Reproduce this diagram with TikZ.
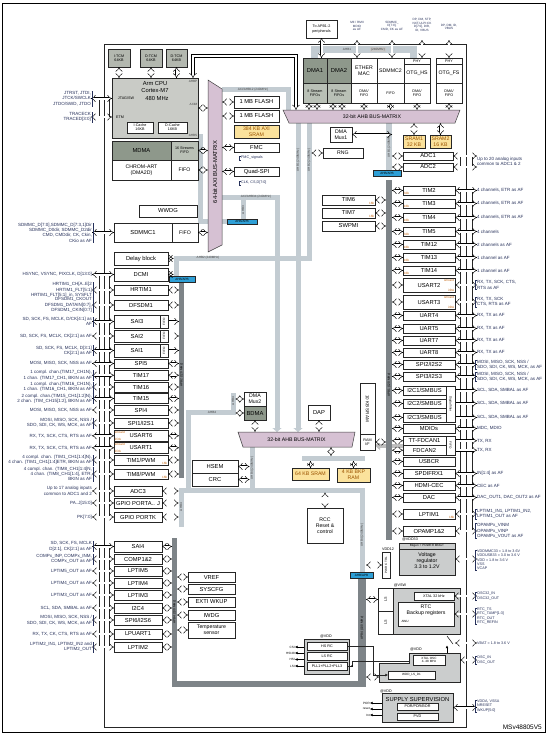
\documentclass[tikz,border=0pt]{standalone}
\usepackage{fontspec}
\setmainfont{Liberation Sans}
\usetikzlibrary{arrows.meta,calc}
\definecolor{busc}{HTML}{C3CCD2}
\definecolor{apbc}{HTML}{7E8488}
\definecolor{cpuc}{HTML}{C9CBC6}
\definecolor{tcmc}{HTML}{B3B8AF}
\definecolor{dmac}{HTML}{8E988B}
\definecolor{fifoc}{HTML}{B9C0B6}
\definecolor{mtxc}{HTML}{D6C1D3}
\definecolor{sramc}{HTML}{FBE29C}
\definecolor{domc}{HTML}{CBCDCD}
\definecolor{bluec}{HTML}{2E9FD6}
\definecolor{tagc}{HTML}{C4620A}
\definecolor{pinc}{HTML}{26305A}
\definecolor{sramt}{HTML}{9A5200}
\newcommand\fsA{\fontsize{5.8}{6.6}\selectfont}
\newcommand\fsM{\fontsize{5.2}{6}\selectfont}
\newcommand\fsB{\fontsize{4.5}{5.3}\selectfont}
\newcommand\fsC{\fontsize{3.7}{4.3}\selectfont}
\newcommand\fsD{\fontsize{3.1}{3.6}\selectfont}
\pgfdeclarelayer{base}
\pgfdeclarelayer{bg}
\pgfsetlayers{base,bg,main}
\newcommand\bx[7][]{\node[box,minimum width={(#5-#3)*1pt},minimum height={(#6-#4)*1pt},#1] (#2) at ({(#3+#5)/2},{(#4+#6)/2}) {#7};}
\newcommand\lrow[7]{\bx{#1}{114}{#2}{#4}{#3}{#5}\node[ll] (#1-pin) at (92,{(#2+#3)/2}) {#6};\draw[dbl] (#1.west) -- (#1.west -| #1-pin.east);\draw[dbl] (#1.east) -- (#1.east -| #7);}
\newcommand\rrow[6]{\bx{#1}{403}{#2}{#4}{#3}{#5}\node[rl] (#1-pin) at (477,{(#2+#3)/2}) {#6};\draw[dbl] (#1.east) -- (#1.east -| #1-pin.west);\draw[dbl] (#1.west) -- (#1.west -| apbone.east);}
\newcommand\rbr[1]{\draw[brk] ($(#1.north east)+(0.5,0)$) -- ($(#1.north east)+(1.6,0)$) -- ($(#1.south east)+(1.6,0)$) -- ($(#1.south east)+(0.5,0)$);}
\newcommand\lbr[1]{\draw[brk] ($(#1.north west)+(-0.5,0)$) -- ($(#1.north west)+(-1.6,0)$) -- ($(#1.south west)+(-1.6,0)$) -- ($(#1.south west)+(-0.5,0)$);}
\begin{document}
\begin{tikzpicture}[x=1pt,y=-1pt,
 box/.style={draw=black!85, line width=0.55pt, fill=white, inner sep=0pt, outer sep=0pt, align=center, font=\fsA},
 dbl/.style={double, double distance=2pt, line width=0.45pt, {Implies}-{Implies}},
 band/.style={line width=5pt, draw=busc},
 blab/.style={font=\fsD, text=black!75, inner sep=0pt},
 apb/.style={fill=apbc, draw=none},
 bridge/.style={fill=bluec, font=\fsD, line width=0.4pt},
 mtx/.style={fill=mtxc, draw=black!75, line width=0.5pt},
 ll/.style={anchor=east, font=\fsB, align=right, inner sep=0pt, text=pinc},
 rl/.style={anchor=west, font=\fsB, align=left, inner sep=0pt, text=pinc},
 tag/.style={font=\fsD, text=tagc, inner sep=0.6pt},
 brk/.style={line width=0.35pt, draw=pinc},
 rail/.style={line width=0.45pt, draw=black!85},
 tl/.style={font=\fsD, align=center, text=pinc, inner sep=0pt},
 sm/.style={font=\fsC, inner sep=0pt},
 wire/.style={line width=0.45pt, draw=black!85},
 pip/.style={double, double distance=2.2pt, line width=0.45pt, {Implies}-{Implies}},
 tip/.style={-{Latex[length=2.6pt,width=2.8pt]}, line width=0.45pt}
]
\useasboundingbox (0,0) rectangle (548,736);
\begin{pgfonlayer}{base}
\fill[white] (0,0) rectangle (548,736);
\end{pgfonlayer}
\draw[line width=0.7pt] (2,3) rectangle (545,732);
\draw[line width=0.8pt, black!85] (104,44) rectangle (466,727);

% ---------------- buses (background) ----------------
\begin{pgfonlayer}{bg}
\draw[band] (222,89.5) -- (288,89.5) -- (288,111);
\draw[band, line width=7pt] (314,58) -- (314,49.5) -- (413,49.5) -- (413,58);
\draw[band, line width=6pt] (389,123) -- (389,171);
\draw[band, -{Triangle[width=9pt,length=4pt]}] (298,123) -- (298,432);
\draw[band] (309,123) -- (309,258) -- (176,258) -- (176,277);
\draw[band, -{Triangle[width=9pt,length=4pt]}] (222,197) -- (277,197) -- (277,432);
\draw[band] (243,197) -- (243,220);
\draw[band] (228,221.5) -- (200.5,221.5) -- (200.5,134);
\draw[band] (200.5,211) -- (197,211);
\draw[band] (233,393) -- (233,412) -- (188,412) -- (188,488);
\draw[band] (252,447) -- (252,490) -- (362,490) -- (362,573);
\draw[band] (252,490) -- (181,490) -- (181,527);
\draw[band] (302,458.5) -- (365,458.5);
\foreach \a/\b in {98.5/117, 274.5/517, 546.5/647}
  {\draw[rail] (99,\a) -- (99,\b); \draw[rail] (109,\a) -- (109,\b);}
\foreach \a/\b in {156/167, 190.5/531}
  {\draw[rail] (460,\a) -- (460,\b); \draw[rail] (472,\a) -- (472,\b);}
\end{pgfonlayer}
\node[blab] (lAXI12) at (253,89.5) {AXI/AHB12 (240MHz)};
\node[blab] (lAHB1t) at (347,49.5) {AHB1};
\node[blab, fill=black!22, inner sep=0.8pt] (lAHB1f) at (378,49.5) {(240MHz)};
\node[blab, rotate=90] (lAHB1r) at (389,146) {AHB1 (240MHz)};
\node[blab, rotate=90] (lAHB1m) at (298,160) {AHB1 (240MHz)};
\node[blab, rotate=90] (lAHB2v) at (309,160) {AHB2 (240MHz)};
\node[blab] (lAHB2h) at (208,258) {AHB2 (240MHz)};
\node[blab] (lAXI34) at (256,197) {AXI/AHB34 (240MHz)};
\node[blab, rotate=90] (lAHB3) at (243,210) {AHB3};
\node[blab, rotate=90] (lAHB4a) at (233,401) {AHB4};
\node[blab] (lAHB4b) at (212,412) {AHB4};
\node[blab, rotate=90] (lAHB4c) at (252,468) {AHB4 (240MHz)};
\node[blab, rotate=90] (lAHB4d) at (362,535) {AHB4 (240MHz)};
\node[blab, rotate=90] (lAHB4e) at (181,507) {AHB4};

% APB bars
\bx[apb]{apbone}{386}{180}{392}{540}{}
\bx[apb]{apbtwo}{179}{283}{184}{478}{}
\bx[apb]{apbfour}{172}{538}{177}{687}{}
\bx[apb]{apbfourh}{172}{681}{366}{687}{}
\bx[apb]{apbfourr}{358}{578}{366}{687}{}
\node[blab, rotate=90, text=black] (lAPB1) at (389,385) {APB1 (120 MHz)};
\node[blab, rotate=90, text=black] (lAPB2) at (181.5,375) {APB2 (120 MHz)};
\node[blab, rotate=90, text=black] (lAPB4a) at (174.5,612) {APB4 (100 MHz)};
\node[blab, rotate=90, text=black] (lAPB4b) at (362,628) {APB4 (100 MHz)};
\bx[bridge]{brone}{373}{170}{401}{176}{AHB/APB}
\bx[bridge]{brtwo}{169}{276}{195}{282}{AHB/APB}
\bx[bridge]{brthree}{227}{219}{257}{224}{AHB/APB}
\bx[bridge]{brfour}{350}{572}{373}{578}{AHB/APB}
\coordinate (xAHBtwo) at (173.5,0);
\coordinate (xAHBfour) at (178.7,0);
\coordinate (xAHBone) at (392,0);
\coordinate (xAHBfourv) at (249.5,0);
\coordinate (xAHBfourd) at (235.5,0);
\coordinate (xAHBtwor) at (311.5,0);
\coordinate (ytop) at (0,40);

% ---------------- bus matrices ----------------
\filldraw[mtx] (208,80) -- (222,89) -- (222,245) -- (208,252) -- cycle;
\node[font=\fsA, rotate=90] (axit) at (215,172) {64-bit AXI BUS-MATRIX};
\node[inner sep=0pt, minimum width=14pt, minimum height=172pt] (axim) at (215,166) {};
\filldraw[mtx] (283,110) -- (460,110) -- (455,123) -- (289,123) -- cycle;
\node[font=\fsM] (dtwot) at (372,116.5) {32-bit AHB BUS-MATRIX};
\node[inner sep=0pt, minimum width=177pt, minimum height=13pt] (dtwom) at (371.5,116.5) {};
\filldraw[mtx] (238,432) -- (355,432) -- (352,447) -- (243,447) -- cycle;
\node[font=\fsM] (dthreet) at (296.5,439.5) {32-bit AHB BUS-MATRIX};
\node[inner sep=0pt, minimum width=117pt, minimum height=15pt] (dthreem) at (296.5,439.5) {};

% ---------------- CPU cluster ----------------
\bx[fill=tcmc, font=\fsC]{itcm}{108}{49}{130}{67}{I-TCM\\64KB}
\bx[fill=tcmc, font=\fsC]{dtcma}{140}{49}{162}{67}{D-TCM\\64KB}
\bx[fill=tcmc, font=\fsC]{dtcmb}{166}{49}{187}{67}{D-TCM\\64KB}
\bx[fill=cpuc]{cpu}{112}{78}{198}{138}{}
\foreach \n in {itcm,dtcma,dtcmb} \draw[dbl] (\n.south) -- (\n.south |- cpu.north);
\node[font=\fsA] (cpuA) at (155,84) {Arm CPU};
\node[font=\fsA] (cpuB) at (155,91) {Cortex-M7};
\node[font=\fsA] (cpuC) at (157,98.5) {480 MHz};
\node[sm] (cpuJ) at (126,98.5) {JTAG/SW};
\node[sm] (cpuE) at (120,117) {ETM};
\node[blab, anchor=east] (cpuP) at (197.5,81) {AHBP};
\node[blab, anchor=east] (cpuX) at (197.5,104) {AXIM};
\node[blab, anchor=east] (cpuS) at (197.5,135) {AHBS};
\bx[font=\fsC]{icache}{127}{122}{153}{133}{I-Cache\\16KB}
\bx[font=\fsC]{dcache}{158}{122}{187}{133}{D-Cache\\16KB}
\bx[fill=dmac]{mdma}{112}{141}{171}{160}{MDMA}
\bx[fill=fifoc, font=\fsC]{mfifo}{171}{141}{198}{160}{16 Streams\\FIFO}
\bx[font=\fsM]{chrom}{112}{160}{171}{180}{CHROM-ART\\(DMA2D)}
\bx[font=\fsM]{cfifo}{171}{160}{198}{180}{FIFO}
\node[ll] (jtagpin) at (91,98.5) {JTRST, JTDI,\\JTCK/SWCLK\\JTDO/SWD, JTDO};
\node[ll] (tracepin) at (91,117) {TRACECK\\TRACED[3:0]};
\draw[dbl] (jtagpin.east) -- (jtagpin.east -| cpu.west);
\draw[dbl] (tracepin.east) -- (tracepin.east -| cpu.west);
\draw[dbl] (cpu.east) -- (cpu.east -| axim.west);
\draw[dbl] (mfifo.east) -- (mfifo.east -| axim.west);
\draw[dbl] (cfifo.east) -- (cfifo.east -| axim.west);
\coordinate (ahbpA) at (193,56);
\coordinate (ahbpB) at (296,56);
\draw[pip] (cpu.north -| ahbpA) -- (ahbpA) -- (ahbpB) -- (ahbpB |- dtwom.north);

% ---------------- AXI side ----------------
\bx{flashone}{234}{96}{279}{108}{1 MB FLASH}
\bx{flashtwo}{234}{110}{279}{122}{1 MB FLASH}
\bx[fill=sramc, text=sramt, font=\fsM]{axisram}{234}{125}{279}{138}{384 KB AXI\\SRAM}
\bx{fmc}{234}{143}{279}{152}{FMC}
\bx{qspi}{234}{167}{279}{176}{Quad-SPI}
\foreach \n in {flashone,flashtwo,fmc,qspi} \draw[dbl] (\n.west -| axim.east) -- (\n.west);
\node[sm, anchor=west, text=pinc] (fmcsig) at (241,158) {FMC\_signals};
\node[sm, anchor=west, text=pinc] (qspisig) at (241,183) {CLK, CS,D[7:0]};
\lbr{fmcsig}
\lbr{qspisig}

\bx{wwdg}{139}{205}{197}{217}{WWDG}
\bx{sdone}{114}{223}{172}{242}{SDMMC1}
\bx[font=\fsM]{sdonef}{172}{223}{198}{242}{FIFO}
\node[ll] (sdonepin) at (92,232.5) {SDMMC\_D[7:0],SDMMC\_D[7:3,1]Dir\\SDMMC\_D0dir, SDMMC\_D2dir\\CMD, CMDdir, CK, Ckin,\\CKio as AF};
\draw[dbl] (sdone.west) -- (sdone.west -| sdonepin.east);
\draw[dbl] (sdonef.east) -- (sdonef.east -| axim.west);

% ---------------- D2 top ----------------
\bx[font=\fsC]{toapb}{306}{20}{337}{38}{To APB1-2\\peripherals}
\node[tl] (miipin) at (357,26) {MII / RMII\\MDIO\\as AF};
\node[tl] (sdpin) at (392,26) {SDMMC\_\\D[7:0],\\CMD, CK as AF};
\node[tl] (ulpipin) at (422,25) {DP, DM, STP,\\NXT,ULPI:CK\\D[7:0], DIR,\\ID, VBUS};
\node[tl] (dppin) at (449,27) {DP, DM, ID,\\VBUS};
\bx[fill=dmac]{dmaone}{303}{58}{327}{83}{DMA1}
\bx[fill=fifoc, font=\fsC]{dmaonef}{303}{83}{327}{103}{8 Stream\\FIFOs}
\bx[fill=dmac]{dmatwo}{327}{58}{351}{83}{DMA2}
\bx[fill=fifoc, font=\fsC]{dmatwof}{327}{83}{351}{103}{8 Stream\\FIFOs}
\bx[font=\fsM]{ether}{351}{58}{377}{83}{ETHER\\MAC}
\bx[font=\fsC]{etherf}{351}{83}{377}{103}{DMA/\\FIFO}
\bx[font=\fsM]{sdtwo}{377}{58}{404}{83}{SDMMC2}
\bx[font=\fsC]{sdtwof}{377}{83}{404}{103}{FIFO}
\bx[font=\fsC]{phyhs}{404}{58}{430}{64}{PHY}
\bx[font=\fsM]{otghs}{404}{64}{430}{83}{OTG\_HS}
\bx[font=\fsC]{otghsf}{404}{83}{430}{103}{DMA/\\FIFO}
\bx[font=\fsC]{phyfs}{436}{58}{462}{64}{PHY}
\bx[font=\fsM]{otgfs}{436}{64}{462}{83}{OTG\_FS}
\bx[font=\fsC]{otgfsf}{436}{83}{462}{103}{DMA/\\FIFO}
\draw[dbl] (toapb.south) -- (toapb.south |- dmaone.north);
\draw[dbl] (miipin.south |- ytop) -- (miipin.south |- ether.north);
\draw[dbl] (sdpin.south |- ytop) -- (sdpin.south |- sdtwo.north);
\draw[dbl] (ulpipin.south |- ytop) -- (ulpipin.south |- phyhs.north);
\draw[dbl] (dppin.south |- ytop) -- (dppin.south |- phyfs.north);
\foreach \n/\o in {dmaonef/-6,dmaonef/2,dmatwof/-6,dmatwof/3,etherf/0,sdtwof/0,otghsf/0,otgfsf/0}
  \draw[dbl] ($(\n.south)+(\o,0)$) -- ($(\n.south |- dtwom.north)+(\o,0)$);
\bx[fill=sramc, text=sramt, font=\fsM]{sramone}{403}{135}{425}{148}{SRAM1\\32 KB}
\bx[fill=sramc, text=sramt, font=\fsM]{sramtwo}{430}{135}{451}{148}{SRAM2\\16 KB}
\foreach \n in {sramone,sramtwo} \draw[dbl] (\n.north |- dtwom.south) -- (\n.north);
\bx[font=\fsM]{dmamux}{330}{127}{352}{142}{DMA\\Mux1}
\bx[font=\fsM]{rng}{323}{148}{363}{158}{RNG}
\draw[dbl] (dmamux.east) -- (dmamux.east -| xAHBone);
\draw[dbl] (rng.west) -- (rng.west -| xAHBtwor);
\bx{adcone}{403}{152}{453}{160}{ADC1}
\bx{adctwo}{403}{163}{453}{171}{ADC2}
\node[rl] (adcpin) at (477,161.5) {Up to 20 analog inputs\\common to ADC1 \& 2};
\foreach \n in {adcone,adctwo} {\draw[dbl] (\n.west) -- (\n.west -| xAHBone); \draw[dbl] (\n.east) -- (\n.east -| adcpin.west);}

\bx{timsix}{322}{195}{375}{205}{TIM6}
\bx{timseven}{322}{208}{375}{218}{TIM7}
\bx{swpmi}{322}{221}{375}{231}{SWPMI}
\foreach \n in {timsix,timseven,swpmi} \draw[dbl] (\n.east) -- (\n.east -| apbone.west);

% ---------------- right column ----------------
\rrow{tim2}{186}{195}{455}{TIM2}{4 channels, ETR as AF}
\rrow{tim3}{199}{208}{455}{TIM3}{4 channels, ETR as AF}
\rrow{tim4}{213}{222}{455}{TIM4}{4 channels, ETR as AF}
\rrow{tim5}{227}{236}{455}{TIM5}{4 channels}
\rrow{timtwelve}{240}{249}{455}{TIM12}{2 channels as AF}
\rrow{timthirteen}{253}{262}{455}{TIM13}{1 channel as AF}
\rrow{timfourteen}{266}{275}{455}{TIM14}{1 channel as AF}
\rrow{usarttwo}{278}{292}{455}{USART2}{RX, TX, SCK, CTS,\\RTS as AF}
\rrow{usartthree}{295}{309}{455}{USART3}{RX, TX, SCK\\CTS, RTS as AF}
\rrow{uartfour}{311}{320}{455}{UART4}{RX, TX as AF}
\rrow{uartfive}{324}{333}{455}{UART5}{RX, TX as AF}
\rrow{uartseven}{336}{345}{455}{UART7}{RX, TX as AF}
\rrow{uarteight}{348}{357}{455}{UART8}{RX, TX as AF}
\rrow{spitwo}{360}{369}{455}{SPI2/I2S2}{MOSI, MISO, SCK, NSS /\\SDO, SDI, CK, WS, MCK, as AF}
\rrow{spithree}{372}{381}{455}{SPI3/I2S3}{MOSI, MISO, SCK, NSS /\\SDO, SDI, CK, WS, MCK, as AF}
\rrow{ictwoone}{386}{395}{446}{I2C1/SMBUS}{SCL, SDA, SMBAL as AF}
\rrow{ictwotwo}{399}{408}{446}{I2C2/SMBUS}{SCL, SDA, SMBAL as AF}
\rrow{ictwothree}{413}{422}{446}{I2C3/SMBUS}{SCL, SDA, SMBAL as AF}
\rrow{mdios}{424}{433}{455}{MDIOs}{MDC, MDIO}
\rrow{fdcanone}{436}{445.5}{446}{TT-FDCAN1}{TX, RX}
\rrow{fdcantwo}{445.5}{455}{446}{FDCAN2}{TX, RX}
\bx{usbcr}{403}{457}{455}{466}{USBCR}
\draw[dbl] (usbcr.west) -- (usbcr.west -| apbone.east);
\rrow{spdif}{469}{478}{455}{SPDIFRX1}{IN[1:4] as AF}
\rrow{hdmi}{481}{490}{455}{HDMI-CEC}{CEC as AF}
\rrow{dac}{493}{502}{455}{DAC}{DAC\_OUT1, DAC\_OUT2 as AF}
\rrow{lptimone}{509}{519}{455}{LPTIM1}{LPTIM1\_IN1, LPTIM1\_IN2,\\LPTIM1\_OUT as AF}
\rrow{opamp}{526}{536}{455}{OPAMP1\&2}{OPAMPx\_VINM\\OPAMPx\_VINP\\OPAMPx\_VOUT as AF}
\bx[font=\fsD]{dfilt}{446}{386}{455}{422}{\rotatebox{-90}{Digital filter}}
\bx[font=\fsD]{canfifo}{446}{436}{455}{455}{\rotatebox{-90}{FIFO}}
\foreach \n in {usarttwo-pin,usartthree-pin,spitwo-pin,spithree-pin,lptimone-pin,opamp-pin} \lbr{\n};

% ---------------- left column ----------------
\bx{delay}{114}{252}{168}{265}{Delay block}
\draw[dbl] (delay.east) -- (delay.east -| xAHBtwo);
\lrow{dcmi}{268}{281}{168}{DCMI}{HSYNC, VSYNC, PIXCLK, D[13:0]}{xAHBtwo}
\lrow{hrtim}{285}{295}{168}{HRTIM1}{HRTIM1\_CH[A..E]2\\HRTIM1\_FLT[5:1]\\HRTIM1\_FLT[5:1]\_in, SYSFLT}{apbtwo.west}
\lrow{dfsdm}{300}{310}{168}{DFSDM1}{DFSDM1\_CKOUT\\DFSDM1\_DATAIN[0:7],\\DFSDM1\_CKIN[0:7]}{apbtwo.west}
\lrow{saithree}{315}{328}{160}{SAI3}{SD, SCK, FS, MCLK, D/CK[4:1] as\\AF}{apbtwo.west}
\lrow{saitwo}{330}{342}{160}{SAI2}{SD, SCK, FS, MCLK, CK[2:1] as AF}{apbtwo.west}
\lrow{saione}{344}{357}{160}{SAI1}{SD, SCK, FS, MCLK, D[3:1]\\CK[2:1] as AF}{apbtwo.west}
\lrow{spifive}{359}{368}{168}{SPI5}{MOSI, MISO, SCK, NSS as AF}{apbtwo.west}
\lrow{timseventeen}{370}{380.5}{168}{TIM17}{1 compl. chan.(TIM17\_CH1N),\\1 chan. (TIM17\_CH1, BKIN as AF}{apbtwo.west}
\lrow{timsixteen}{382}{392}{168}{TIM16}{1 compl. chan.(TIM16\_CH1N),\\1 chan. (TIM16\_CH1, BKIN as AF}{apbtwo.west}
\lrow{timfifteen}{393.5}{403.5}{168}{TIM15}{2 compl. chan.(TIM15\_CH1[1:2]N),\\2 chan. (TIM\_CH15[1:2], BKIN as AF}{apbtwo.west}
\lrow{spifour}{405}{415}{168}{SPI4}{MOSI, MISO, SCK, NSS as AF}{apbtwo.west}
\lrow{spione}{418}{428}{168}{SPI1/I2S1}{MOSI, MISO, SCK, NSS /\\SDO, SDI, CK, WS, MCK, as AF}{apbtwo.west}
\lrow{usartsix}{430}{441.5}{168}{USART6}{RX, TX, SCK, CTS, RTS as AF}{apbtwo.west}
\lrow{usartone}{442.5}{453}{168}{USART1}{RX, TX, SCK, CTS, RTS as AF}{apbtwo.west}
\lrow{timone}{455}{465}{168}{TIM1/PWM}{4 compl. chan. (TIM1\_CH1[1:4]N),\\4 chan. (TIM1\_CH1[1:4]ETR, BKIN as AF}{apbtwo.west}
\lrow{timeight}{469}{479}{168}{TIM8/PWM}{4 compl. chan. (TIM8\_CH1[1:4]N,\\4 chan. (TIM8\_CH1[1:4], ETR,\\BKIN as AF}{apbtwo.west}
\lrow{adcthree}{486}{496}{162}{ADC3}{Up to 17 analog inputs\\common to ADC1 and 2}{xAHBfour}
\lrow{gpioa}{498}{508}{162}{GPIO PORTA.. J}{PA..J[15:0]}{xAHBfour}
\lrow{gpiok}{512}{522}{162}{GPIO PORTK}{PK[7:0]}{xAHBfour}
\lrow{saifour}{541}{552}{162}{SAI4}{SD, SCK, FS, MCLK\\D[2:1], CK[2:1] as AF}{apbfour.west}
\lrow{comp}{554}{564}{162}{COMP1\&2}{COMPx\_INP, COMPx\_INM,\\COMPx\_OUT as AF}{apbfour.west}
\lrow{lptimfive}{566}{576}{162}{LPTIM5}{LPTIM5\_OUT as AF}{apbfour.west}
\lrow{lptimfour}{578}{588}{162}{LPTIM4}{LPTIM4\_OUT as AF}{apbfour.west}
\lrow{lptimthree}{590}{600}{162}{LPTIM3}{LPTIM3\_OUT as AF}{apbfour.west}
\lrow{ictwofour}{603}{613}{162}{I2C4}{SCL, SDA, SMBAL as AF}{apbfour.west}
\lrow{spisix}{615}{625}{162}{SPI6/I2S6}{MOSI, MISO, SCK, NSS /\\SDO, SDI, CK, WS, MCK, as AF}{apbfour.west}
\lrow{lpuart}{629}{639}{162}{LPUART1}{RX, TX, CK, CTS, RTS as AF}{apbfour.west}
\lrow{lptimtwo}{642}{652}{162}{LPTIM2}{LPTIM2\_IN1, LPTIM2\_IN2 and\\LPTIM2\_OUT}{apbfour.west}
\bx[font=\fsD]{saithreef}{160}{315}{168}{328}{\rotatebox{90}{FIFO}}
\bx[font=\fsD]{saitwof}{160}{330}{168}{342}{\rotatebox{90}{FIFO}}
\bx[font=\fsD]{saionef}{160}{344}{168}{357}{\rotatebox{90}{FIFO}}
\foreach \n in {jtagpin,tracepin,sdonepin,hrtim-pin,dfsdm-pin,saithree-pin,saione-pin,timseventeen-pin,timsixteen-pin,timfifteen-pin,spione-pin,timone-pin,timeight-pin,saifour-pin,comp-pin,spisix-pin,lptimtwo-pin} \rbr{\n};

% tags
\foreach \n/\t in {tim2/32b,tim3/16b,tim4/16b,tim5/32b,timtwelve/16b,timthirteen/16b,timfourteen/16b}
  \node[tag, anchor=south west] (\n-t) at (\n.south west) {\t};
\foreach \n in {usarttwo,usartthree} {\node[tag,anchor=north east] (\n-s) at (\n.north east) {smcard}; \node[tag,anchor=south east] (\n-i) at (\n.south east) {irDA};}
\foreach \n in {usartsix,usartone} {\node[tag,anchor=north west] (\n-s) at (\n.north west) {smcard}; \node[tag,anchor=south west] (\n-i) at (\n.south west) {irDA};}
\foreach \n in {lptimone,timone,timeight,timsix,timseven} \node[tag,anchor=south east] (\n-t) at (\n.south east) {16b};

% ---------------- D3 ----------------
\bx[font=\fsM]{dmamuxtwo}{244}{392}{266}{406}{DMA\\Mux2}
\bx[fill=dmac]{bdma}{244}{406}{266}{420}{BDMA}
\bx{dap}{308}{405}{330}{420}{DAP}
\draw[dbl] (dmamuxtwo.west) -- (dmamuxtwo.west -| xAHBfourd);
\draw[dbl] (bdma.west) -- (bdma.west -| xAHBfourd);
\draw[dbl] (bdma.south) -- (bdma.south |- dthreem.north);
\draw[dbl] (dap.south) -- (dap.south |- dthreem.north);
\coordinate (sbust) at (0,456);
\coordinate (sbusb) at (0,461);
\draw[dbl] ($(dthreem.south)+(34.5,0)$) -- ($(dthreem.south |- sbust)+(34.5,0)$);
\bx[fill=sramc, text=sramt, font=\fsM]{sramd}{292}{468}{329}{480}{64 KB SRAM}
\bx[fill=sramc, text=sramt, font=\fsM]{bkpram}{337}{468}{370}{482}{4 KB BKP\\RAM}
\draw[dbl] (sramd.north |- sbusb) -- (sramd.north);
\draw[dbl] (bkpram.north |- sbusb) -- (bkpram.north);
\bx[font=\fsB]{tensram}{360}{383}{375}{434}{\rotatebox{-90}{10 KB SRAM}}
\bx[font=\fsC]{ramif}{360}{434}{375}{450}{RAM\\I/F}
\draw[dbl] (ramif.east) -- (ramif.east -| apbone.west);
\begin{pgfonlayer}{bg}
\draw[line width=4pt, draw=black!25, -{Triangle[width=9pt,length=5pt]}] (fdcantwo.north west) -- (fdcantwo.north west -| ramif.east);
\end{pgfonlayer}
\bx{hsem}{192}{460}{238}{473}{HSEM}
\bx{crc}{192}{473}{238}{486}{CRC}
\draw[dbl] (hsem.east) -- (hsem.east -| xAHBfourv);
\draw[dbl] (crc.east) -- (crc.east -| xAHBfourv);
\coordinate (ahbfourh) at (0,492.5);
\bx[font=\fsM]{rcc}{307}{508}{343}{543}{RCC\\Reset \&\\control}
\draw[dbl] (rcc.north |- ahbfourh) -- (rcc.north);

\bx{vref}{188}{572}{235}{582}{VREF}
\bx{syscfg}{188}{584}{235}{594}{SYSCFG}
\bx{exti}{188}{597}{235}{607}{EXTI WKUP}
\bx{iwdg}{188}{610}{235}{620}{IWDG}
\bx[font=\fsM]{temp}{188}{622}{235}{638}{Temperature\\sensor}
\foreach \n in {vref,syscfg,exti,iwdg,temp} \draw[dbl] (\n.west) -- (\n.west -| apbfour.east);

% clocks
\node[sm] (vddhsi) at (326,636) {@VDD};
\bx[fill=domc]{hsigrp}{304}{639}{349}{674}{}
\bx[font=\fsC]{hsirc}{307}{642}{347}{650}{HS RC}
\bx[font=\fsC]{lsirc}{307}{652}{347}{660}{LS RC}
\bx[font=\fsC]{pll}{307}{662}{347}{670}{PLL1+PLL2+PLL3}
\foreach \n/\t/\y in {csi/CSI/647,hsife/HSI48/653,hsi/HSI/659.5,lsi/LSI/666}
  {\node[font=\fsD, anchor=east, inner sep=0pt] (\n) at (295,\y) {\t}; \draw[tip] (hsigrp.west |- \n) -- (\n.east);}

% ---------------- power ----------------
\node[sm] (vddthree) at (410,539.5) {@VDD33};
\node[sm] (vddtwelve) at (388,549) {VDD12};
\bx[fill=domc, font=\fsM]{reg}{399}{543}{455}{575}{\\[1pt]Voltage\\regulator\\3.3 to 1.2V}
\bx[fill=domc, font=\fsD]{bkgen}{399}{543}{455}{549}{Bkgen + POWER MNGT}
\bx[font=\fsD]{pwrctrl}{382}{552}{390}{578}{\rotatebox{90}{PWR CTRL}}
\draw[dbl] (pwrctrl.west) -- (pwrctrl.west -| apbfourr.east);
\node[rl, font=\fsC] (regpin) at (477,560) {VDDMMC33 = 1.8 to 3.6V\\VDDUSB33 = 3.0 to 3.6 V\\VDD = 1.8 to 3.6 V\\VSS\\VCAP};
\draw[dbl] (reg.east) -- (reg.east -| regpin.west);

\node[sm] (vsw) at (400,585) {@VSW};
\bx[fill=domc]{bkp}{378}{588}{460}{634}{}
\bx[font=\fsC]{lsa}{378}{588}{393}{611}{\rotatebox{90}{LS}}
\bx[font=\fsC]{lsb}{378}{611}{393}{634}{\rotatebox{90}{LS}}
\bx[font=\fsC]{xtal}{414}{592}{454}{600}{XTAL 32 kHz}
\bx[font=\fsM]{rtc}{398}{602}{454}{626}{RTC\\Backup registers\\[2pt]}
\node[font=\fsD, anchor=south west] (awu) at (rtc.south west) {AWU};
\draw[dbl] (lsa.west) -- (lsa.west -| apbfourr.east);
\node[rl, font=\fsC] (oscpin) at (477,596) {OSC32\_IN\\OSC32\_OUT};
\node[rl, font=\fsC] (rtcpin) at (477,616) {RTC\_TS\\RTC\_TAMP[1:3]\\RTC\_OUT\\RTC\_REFIN};
\draw[dbl] (xtal.east) -- (xtal.east -| oscpin.west);
\draw[dbl] (rtc.east) -- (rtc.east -| rtcpin.west);
\coordinate (vbatc) at (455,643);
\node[rl, font=\fsC] (vbatpin) at (477,643) {VBAT = 1.8 to 3.6 V};
\draw[dbl] (vbatc) -- (vbatpin.west);
\draw[line width=0.5pt] (447,636) -- (453,644);

\node[sm] (vddb) at (416,649) {@VDD};
\filldraw[fill=domc, draw=black!85, line width=0.55pt] (409,653) -- (460,653) -- (460,682) -- (379,682) -- (379,663) -- (409,663) -- cycle;
\bx[font=\fsD]{xtalosc}{413}{655}{445}{665}{XTAL OSC\\4- 48 MHz}
\bx[font=\fsD]{wdd}{388}{671}{435}{679}{WDD\_LS\_D1}
\coordinate (vddr) at (460,660);
\coordinate (vddl) at (379,677);
\coordinate (vddn) at (409,661);
\coordinate (clkx) at (373,0);
\coordinate (pllx) at (352,0);
\draw[tip] (447,653) -- (447,645.5);
\node[rl, font=\fsC] (osc2pin) at (477,660) {OSC\_IN\\OSC\_OUT};
\draw[dbl] (vddr) -- (vddr -| osc2pin.west);
\draw[dbl] (vddl) -- (vddl -| apbfourr.east);
\draw[wire] (hsirc.east) -- (hsirc.east -| clkx) -- (clkx |- wdd.west);
\draw[wire, -{Latex[length=2.6pt,width=2.8pt]}] (clkx |- wdd.west) -- (wdd.west);
\draw[wire] (pll.east) -- (pll.east -| pllx) -- (pllx |- vddn) -- (vddn);
\fill (pll.east -| pllx) circle (0.9pt);

\node[sm] (vddc) at (386,691) {@VDD};
\bx[fill=domc, font=\fsA]{sup}{382}{693}{453}{722}{}
\node[font=\fsA] (supt) at (417.5,699) {SUPPLY SUPERVISION};
\bx[font=\fsC]{por}{397}{703}{438}{710}{POR/PDR/BOR}
\bx[font=\fsC]{pvd}{397}{713}{438}{720}{PVD}
\foreach \n/\t/\y in {porl/POR/703,resl/reset/709,intl/Int/715}
  {\node[font=\fsD, anchor=east, inner sep=0pt] (\n) at (370,\y) {\t}; \draw[tip] (sup.west |- \n) -- (\n.east);}
\node[rl, font=\fsC] (suppin) at (477,706) {VDDA, VSSA\\NRESET\\WKUP[5:0]};
\draw[dbl] (sup.east) -- (sup.east -| suppin.west);
\foreach \n in {regpin,oscpin,rtcpin,osc2pin,suppin} \lbr{\n};

\node[font=\fontsize{6.5}{7}\selectfont, anchor=east, inner sep=0pt] (msv) at (542,727) {MSv48805V5};
\end{tikzpicture}
\end{document}
